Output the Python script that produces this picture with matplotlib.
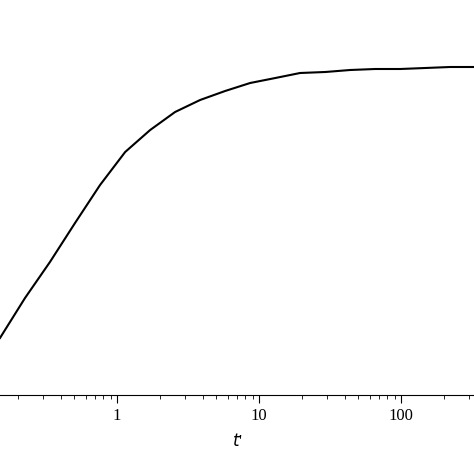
import matplotlib
matplotlib.use("Agg")
import matplotlib.pyplot as plt

t = [0.15, 0.225, 0.337, 0.506, 0.759, 1.14, 1.71, 2.56, 3.84, 5.76, 8.64, 13.0, 19.4, 29.2, 43.7, 65.6, 98.4, 147.6, 221, 325]
v = [57, 97, 133, 172, 210, 243, 265, 283, 295, 304, 312, 317, 322, 323, 325, 326, 326, 327, 328, 328]

plt.rcParams['font.family'] = ['Liberation Serif', 'DejaVu Serif']
fig = plt.figure(figsize=(4.74, 4.74), dpi=100)
ax = fig.add_axes([0, 0.1667, 1, 0.8333])
ax.plot(t, v, color='black', lw=1.5)
ax.set_xscale('log')
ax.set_xlim(0.15, 325)
ax.set_ylim(0, 395)
ax.set_xticks([1, 10, 100])
ax.set_xticklabels(['1', '10', '100'], fontsize=12)
ax.set_yticks([])
for s in ['top', 'right', 'left']:
    ax.spines[s].set_visible(False)
ax.tick_params(axis='x', which='major', length=6, direction='out')
ax.tick_params(axis='x', which='minor', length=3, direction='out')
ax.set_xlabel("$t$'", fontsize=12, labelpad=6)
fig.savefig('out.png', dpi=100)
